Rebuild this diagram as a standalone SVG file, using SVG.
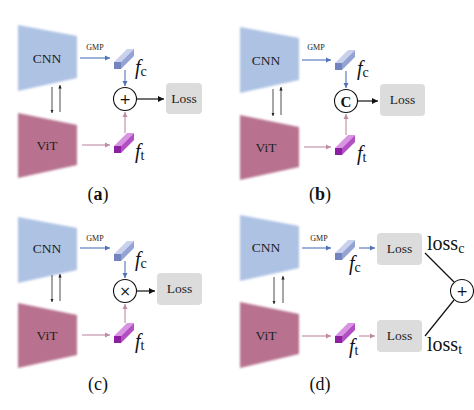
<svg xmlns="http://www.w3.org/2000/svg" width="474" height="410" viewBox="0 0 474 410">
<style>
.cnn{fill:#aec2e4;filter:url(#blur)}
.vit{fill:#b8728f;filter:url(#blur)}
.nt{font-family:"Liberation Serif",serif;font-size:13.5px;fill:#222;text-anchor:middle}
.gmp{font-family:"Liberation Serif",serif;font-size:8px;fill:#222;text-anchor:middle}
.box{fill:#dcdcdc}
.bt{font-family:"Liberation Serif",serif;font-size:13.5px;fill:#222;text-anchor:middle}
.circ{fill:#fff;stroke:#111;stroke-width:1.1}
.op{font-family:"DejaVu Sans",sans-serif;font-size:14px;fill:#111;text-anchor:middle}
.opc{font-family:"Liberation Serif",serif;font-size:15px;font-weight:bold;fill:#111;text-anchor:middle}
.fl{font-family:"Liberation Serif",serif;font-size:20px;fill:#111}
.fi{font-style:italic}
.cap{font-family:"Liberation Serif",serif;font-size:18px;fill:#111;text-anchor:middle}
.ab{stroke:#4f72b8;stroke-width:1.1;fill:none;marker-end:url(#hb)}
.am{stroke:#c08aa2;stroke-width:1.1;fill:none;marker-end:url(#hm)}
.ak{stroke:#111;stroke-width:1.2;fill:none;marker-end:url(#hk)}
.av{stroke:#222;stroke-width:0.8;fill:none;marker-end:url(#hv)}
.ln{stroke:#111;stroke-width:1.2;fill:none}
</style>
<defs>
<filter id="blur" x="-20%" y="-20%" width="140%" height="140%"><feGaussianBlur stdDeviation="1.3"/></filter>
<marker id="hb" markerWidth="6" markerHeight="6" refX="5" refY="3" orient="auto" markerUnits="userSpaceOnUse"><path d="M0,0.5 L5,3 L0,5.5 Z" fill="#4f72b8"/></marker>
<marker id="hm" markerWidth="6" markerHeight="6" refX="5" refY="3" orient="auto" markerUnits="userSpaceOnUse"><path d="M0,0.5 L5,3 L0,5.5 Z" fill="#c08aa2"/></marker>
<marker id="hk" markerWidth="7" markerHeight="7" refX="6" refY="3.5" orient="auto" markerUnits="userSpaceOnUse"><path d="M0,0.5 L6,3.5 L0,6.5 Z" fill="#111"/></marker>
<marker id="hv" markerWidth="4" markerHeight="4" refX="3.5" refY="2" orient="auto" markerUnits="userSpaceOnUse"><path d="M0,0.3 L3.5,2 L0,3.7 Z" fill="#222"/></marker>
<g id="cubeC">
<polygon points="0,13 13,0 20,0 7,13" fill="#c9d1ec"/>
<polygon points="7,13 20,0 20,7 7,20" fill="#93a3d3"/>
<rect x="0" y="13" width="7" height="7" fill="#7383bd"/>
</g>
<g id="cubeT">
<polygon points="0,13 13,0 20,0 7,13" fill="#d993e3"/>
<polygon points="7,13 20,0 20,7 7,20" fill="#b24fc3"/>
<rect x="0" y="13" width="7" height="7" fill="#8c1fa2"/>
</g>
</defs>
<rect width="474" height="410" fill="#fff"/>

<!-- Panel (a) -->
<g id="a-cnn"><polygon class="cnn" points="18,25 77,36 77,78 18,91"/><text class="nt" x="47" y="63">CNN</text></g>
<g id="a-vit"><polygon class="vit" points="18,113 77,125 77,165 18,178"/><text class="nt" x="47" y="150">ViT</text></g>
<g id="a-fc"><use href="#cubeC" x="114" y="49"/><text class="fl" x="135" y="74"><tspan class="fi">f</tspan><tspan font-size="14" dy="2">c</tspan></text></g>
<g id="a-ft"><use href="#cubeT" x="114" y="133"/><text class="fl" x="135" y="158"><tspan class="fi">f</tspan><tspan font-size="14" dy="2">t</tspan></text></g>
<g id="a-op"><circle class="circ" cx="125" cy="99" r="11.5"/><text class="op" x="125" y="104">+</text></g>
<g id="a-loss"><rect class="box" x="166" y="83" width="36" height="31" rx="4"/><text class="bt" x="184" y="103">Loss</text></g>
<text class="cap" x="98" y="200">(<tspan font-weight="bold">a</tspan>)</text>

<!-- Panel (b) -->
<g id="b-cnn"><polygon class="cnn" points="240,27 299,38 299,80 240,93"/><text class="nt" x="266" y="65">CNN</text></g>
<g id="b-vit"><polygon class="vit" points="240,115 299,127 299,167 240,180"/><text class="nt" x="266" y="152">ViT</text></g>
<g id="b-fc"><use href="#cubeC" x="335" y="50"/><text class="fl" x="357" y="75"><tspan class="fi">f</tspan><tspan font-size="14" dy="2">c</tspan></text></g>
<g id="b-ft"><use href="#cubeT" x="335" y="135"/><text class="fl" x="357" y="160"><tspan class="fi">f</tspan><tspan font-size="14" dy="2">t</tspan></text></g>
<g id="b-op"><circle class="circ" cx="346" cy="101" r="11.5"/><text class="opc" x="346" y="106.5">C</text></g>
<g id="b-loss"><rect class="box" x="380" y="84" width="45" height="32" rx="4"/><text class="bt" x="402.5" y="104">Loss</text></g>
<text class="cap" x="320" y="200">(<tspan font-weight="bold">b</tspan>)</text>

<!-- Panel (c) -->
<g id="c-cnn"><polygon class="cnn" points="18,217 77,228 77,270 18,283"/><text class="nt" x="47" y="253">CNN</text></g>
<g id="c-vit"><polygon class="vit" points="18,303 77,315 77,355 18,368"/><text class="nt" x="47" y="340">ViT</text></g>
<g id="c-fc"><use href="#cubeC" x="114" y="241"/><text class="fl" x="135" y="266"><tspan class="fi">f</tspan><tspan font-size="14" dy="2">c</tspan></text></g>
<g id="c-ft"><use href="#cubeT" x="114" y="323"/><text class="fl" x="135" y="348"><tspan class="fi">f</tspan><tspan font-size="14" dy="2">t</tspan></text></g>
<g id="c-op"><circle class="circ" cx="125" cy="291" r="11.5"/><text class="op" x="125" y="296">×</text></g>
<g id="c-loss"><rect class="box" x="157" y="273" width="45" height="32" rx="4"/><text class="bt" x="179.5" y="293">Loss</text></g>
<text class="cap" x="98" y="390">(c)</text>

<!-- Panel (d) -->
<g id="d-cnn"><polygon class="cnn" points="240,215 299,226 299,268 240,281"/><text class="nt" x="266" y="252">CNN</text></g>
<g id="d-vit"><polygon class="vit" points="240,302 299,314 299,354 240,368"/><text class="nt" x="266" y="340">ViT</text></g>
<g id="d-fc"><use href="#cubeC" x="335" y="240"/><text class="fl" x="349" y="270"><tspan class="fi">f</tspan><tspan font-size="14" dy="2">c</tspan></text></g>
<g id="d-ft"><use href="#cubeT" x="335" y="323"/><text class="fl" x="349" y="353"><tspan class="fi">f</tspan><tspan font-size="14" dy="2">t</tspan></text></g>
<g id="d-loss1"><rect class="box" x="377" y="233" width="45" height="32" rx="4"/><text class="bt" x="399.5" y="253">Loss</text></g>
<g id="d-loss2"><rect class="box" x="377" y="320" width="45" height="32" rx="4"/><text class="bt" x="399.5" y="340">Loss</text></g>
<g id="d-op"><circle class="circ" cx="462" cy="291" r="11.5"/><text class="op" x="462" y="296">+</text></g>
<text class="fl" x="427" y="250">loss<tspan font-size="14" dy="3">c</tspan></text>
<text class="fl" x="427" y="351">loss<tspan font-size="14" dy="3">t</tspan></text>
<text class="cap" x="320" y="390">(d)</text>

<g id="gmp">
<text class="gmp" x="95" y="50">GMP</text>
<text class="gmp" x="316" y="50">GMP</text>
<text class="gmp" x="95" y="241">GMP</text>
<text class="gmp" x="319" y="241">GMP</text>
</g>

<g id="connectors">
<!-- a -->
<path class="ab" d="M80,58 H110"/>
<path class="ab" d="M125,70 V86"/>
<path class="am" d="M82,145 H110"/>
<path class="am" d="M125,133 V112"/>
<path class="ak" d="M137,99 H164"/>
<path class="av" d="M52,87 V113"/>
<path class="av" d="M60,112 V85"/>
<!-- b -->
<path class="ab" d="M302,60 H331"/>
<path class="ab" d="M346,71 V88"/>
<path class="am" d="M304,147 H331"/>
<path class="am" d="M346,135 V114"/>
<path class="ak" d="M358,101 H378"/>
<path class="av" d="M273,89 V116"/>
<path class="av" d="M281,115 V87"/>
<!-- c -->
<path class="ab" d="M80,248 H110"/>
<path class="ab" d="M125,261 V278"/>
<path class="am" d="M82,335 H110"/>
<path class="am" d="M125,323 V304"/>
<path class="ak" d="M137,291 H155"/>
<path class="av" d="M52,275 V302"/>
<path class="av" d="M60,301 V274"/>
<!-- d -->
<path class="ab" d="M302,248 H331"/>
<path class="ab" d="M359,248 H375"/>
<path class="am" d="M302,336 H331"/>
<path class="am" d="M359,336 H375"/>
<path class="ln" d="M425,253 L454,282"/>
<path class="ln" d="M454,300 L425,336"/>
<path class="av" d="M274,277 V304"/>
<path class="av" d="M283,303 V276"/>
</g>
</svg>
